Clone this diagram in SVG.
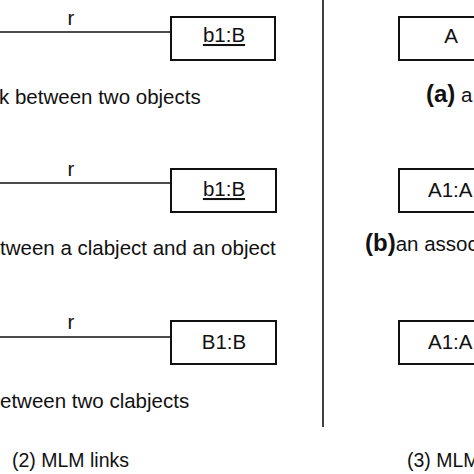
<svg xmlns="http://www.w3.org/2000/svg" width="474" height="474" viewBox="0 0 474 474">
<style>
text{font-family:"Liberation Sans",Arial,sans-serif;fill:#111;font-size:20.5px}
.box{fill:#fff;stroke:#111;stroke-width:2}
.ln{stroke:#111;stroke-width:1.6;fill:none}
.u{text-decoration:underline}
.c{text-anchor:middle}
.b{font-weight:bold;font-size:24px}
.s{font-size:19.5px}
</style>
<rect width="474" height="474" fill="#fff"/>
<g id="connectors">
<line class="ln" x1="0" y1="32" x2="171" y2="32"/>
<line class="ln" x1="0" y1="183" x2="171" y2="183"/>
<line class="ln" x1="0" y1="337" x2="171" y2="337"/>
<line class="ln" x1="323" y1="0" x2="323" y2="427"/>
</g>
<g id="label-r1"><text x="71" y="25" class="c">r</text></g>
<g id="label-r2"><text x="71" y="176" class="c">r</text></g>
<g id="label-r3"><text x="71" y="329" class="c">r</text></g>
<g id="b1B-1"><rect class="box" x="171" y="17" width="104" height="43"/><text x="224" y="42" class="c u">b1:B</text></g>
<g id="b1B-2"><rect class="box" x="171" y="169" width="105" height="43"/><text x="224" y="196" class="c u">b1:B</text></g>
<g id="B1B-3"><rect class="box" x="171" y="321" width="105" height="43"/><text x="224" y="349" class="c">B1:B</text></g>
<g id="A-1"><rect class="box" x="399" y="17" width="104" height="43"/><text x="451" y="43" class="c">A</text></g>
<g id="A1A-2"><rect class="box" x="399" y="169" width="104" height="43"/><text x="428" y="197">A1:A</text></g>
<g id="A1A-3"><rect class="box" x="399" y="321" width="104" height="43"/><text x="428" y="349">A1:A</text></g>
<g id="captions">
<text x="-1" y="104">k between two objects</text>
<text x="0" y="255">tween a clabject and an object</text>
<text x="0" y="408">etween two clabjects</text>
<text x="12" y="467" class="s">(2) MLM links</text>
<text x="426" y="102"><tspan class="b">(a)</tspan> a</text>
<text x="365" y="251"><tspan class="b">(b)</tspan>an assoc</text>
<text x="407" y="467" class="s">(3) MLM</text>
</g>
</svg>
